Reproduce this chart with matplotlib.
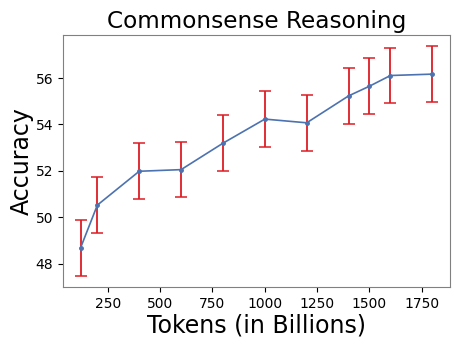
import matplotlib
matplotlib.use('Agg')
import matplotlib.pyplot as plt

# Données
tokens = [120, 200, 400, 600, 800, 1000, 1200, 1400, 1500, 1600, 1800]
accuracy = [48.68, 50.52, 51.98, 52.05, 53.19, 54.23, 54.07, 55.23, 55.65, 56.11, 56.17]
errors = [1.2] * len(tokens)

fig, ax = plt.subplots(figsize=(4.6, 3.45), dpi=100)
ax.errorbar(tokens, accuracy, yerr=errors, color='#4C72B0', marker='o', markersize=2.5,
            linewidth=1.2, ecolor='#dc1e24', elinewidth=1.3, capsize=4, capthick=1.1)
ax.set_title('Commonsense Reasoning', fontsize=16.7, pad=5)
ax.set_xlabel('Tokens (in Billions)', fontsize=17, labelpad=2)
ax.set_ylabel('Accuracy', fontsize=17, labelpad=1)
ax.set_xticks([250, 500, 750, 1000, 1250, 1500, 1750])
ax.set_yticks([48, 50, 52, 54, 56])
ax.tick_params(labelsize=10)
for s in ax.spines.values():
    s.set_color('#808080')
plt.subplots_adjust(left=0.137, right=0.978, top=0.899, bottom=0.168)
plt.savefig('out.png')
plt.close()
